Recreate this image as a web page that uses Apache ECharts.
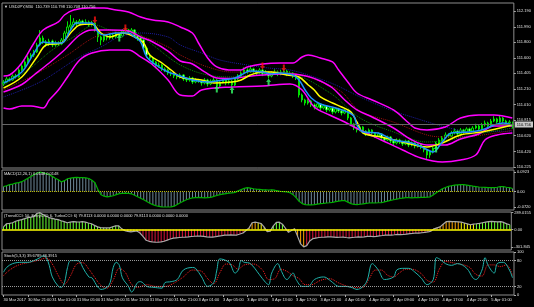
<!DOCTYPE html>
<html>
<head>
<meta charset="utf-8">
<script src="https://cdn.jsdelivr.net/npm/echarts@6/dist/echarts.min.js"></script>
<style>
  html, body { margin: 0; background: #000; }
  #chart { width: 534px; height: 307px; }
</style>
</head>
<body>
<div id="chart"></div>
<script>
// USDJPY M30, one entry per bar: [open, close, low, high]
const candles = [
  [111.270,111.296,111.245,111.320],[111.296,111.334,111.280,111.360],[111.334,111.321,111.300,111.352],[111.321,111.371,111.310,111.392],
  [111.371,111.359,111.338,111.398],[111.359,111.447,111.350,111.470],[111.447,111.497,111.430,111.525],[111.497,111.548,111.482,111.570],
  [111.548,111.598,111.530,111.630],[111.598,111.636,111.575,111.660],[111.636,111.674,111.610,111.700],[111.674,111.762,111.660,111.790],
  [111.762,111.850,111.745,111.950],[111.850,111.800,111.775,111.880],[111.800,111.775,111.740,111.825],[111.775,111.812,111.750,111.840],
  [111.812,111.762,111.735,111.830],[111.762,111.787,111.740,111.815],[111.787,111.775,111.750,111.810],[111.775,111.825,111.760,111.850],
  [111.825,111.913,111.810,111.940],[111.913,111.989,111.900,112.060],[111.989,112.014,111.960,112.140],[112.014,112.052,111.990,112.100],
  [112.052,112.027,112.000,112.075],[112.027,112.064,112.010,112.090],[112.064,112.039,112.015,112.080],[112.039,112.052,112.020,112.085],
  [112.052,112.014,111.990,112.070],[112.014,112.039,111.995,112.065],[112.039,111.951,111.930,112.055],[111.951,111.863,111.800,111.965],
  [111.863,111.825,111.760,111.880],[111.825,111.875,111.800,111.900],[111.875,111.850,111.820,111.890],[111.850,111.888,111.830,111.910],
  [111.888,111.863,111.835,111.905],[111.863,111.901,111.845,111.930],[111.901,111.875,111.850,111.915],[111.875,111.938,111.860,111.960],
  [111.938,111.951,111.915,111.985],[111.951,111.926,111.900,111.965],[111.926,111.951,111.905,111.975],[111.951,111.875,111.850,111.960],
  [111.875,111.850,111.815,111.890],[111.850,111.825,111.790,111.870],[111.825,111.724,111.700,111.840],[111.724,111.636,111.600,111.740],
  [111.636,111.598,111.570,111.660],[111.598,111.548,111.520,111.615],[111.548,111.497,111.470,111.560],[111.497,111.510,111.475,111.540],
  [111.510,111.460,111.435,111.525],[111.460,111.447,111.420,111.480],[111.447,111.409,111.385,111.465],[111.409,111.397,111.370,111.430],
  [111.397,111.371,111.345,111.415],[111.371,111.359,111.330,111.390],[111.359,111.384,111.340,111.405],[111.384,111.334,111.310,111.395],
  [111.334,111.321,111.295,111.350],[111.321,111.346,111.300,111.370],[111.346,111.296,111.270,111.360],[111.296,111.321,111.280,111.345],
  [111.321,111.308,111.285,111.335],[111.308,111.283,111.250,111.320],[111.283,111.321,111.265,111.345],[111.321,111.271,111.240,111.335],
  [111.271,111.308,111.255,111.330],[111.308,111.321,111.290,111.350],[111.321,111.245,111.215,111.335],[111.245,111.296,111.230,111.315],
  [111.296,111.321,111.280,111.345],[111.321,111.283,111.255,111.335],[111.283,111.308,111.265,111.330],[111.308,111.258,111.225,111.320],
  [111.258,111.334,111.245,111.350],[111.334,111.371,111.320,111.395],[111.371,111.409,111.355,111.440],[111.409,111.447,111.395,111.480],
  [111.447,111.422,111.400,111.470],[111.422,111.460,111.410,111.490],[111.460,111.434,111.410,111.475],[111.434,111.409,111.385,111.450],
  [111.409,111.447,111.395,111.470],[111.447,111.397,111.370,111.460],[111.397,111.422,111.380,111.445],[111.422,111.371,111.340,111.435],
  [111.371,111.409,111.355,111.430],[111.409,111.422,111.390,111.455],[111.422,111.397,111.370,111.440],[111.397,111.422,111.380,111.450],
  [111.422,111.434,111.400,111.465],[111.434,111.397,111.370,111.450],[111.397,111.409,111.380,111.430],[111.409,111.371,111.345,111.420],
  [111.371,111.346,111.320,111.385],[111.346,111.132,111.100,111.360],[111.132,111.069,111.040,111.150],[111.069,111.031,111.000,111.085],
  [111.031,111.056,111.010,111.080],[111.056,111.006,110.980,111.070],[111.006,110.981,110.950,111.025],[110.981,111.019,110.965,111.045],
  [111.019,110.968,110.940,111.030],[110.968,110.993,110.950,111.015],[110.993,110.943,110.915,111.005],[110.943,110.968,110.925,110.990],
  [110.968,110.918,110.890,110.980],[110.918,110.956,110.900,110.975],[110.956,110.930,110.905,110.970],[110.930,110.905,110.875,110.945],
  [110.905,110.943,110.890,110.965],[110.943,110.842,110.815,110.955],[110.842,110.767,110.740,110.855],[110.767,110.716,110.690,110.780],
  [110.716,110.691,110.660,110.730],[110.691,110.729,110.675,110.750],[110.729,110.678,110.650,110.740],[110.678,110.641,110.615,110.690],
  [110.641,110.691,110.625,110.710],[110.691,110.653,110.630,110.700],[110.653,110.615,110.590,110.665],[110.615,110.641,110.600,110.660],
  [110.641,110.590,110.565,110.650],[110.590,110.565,110.540,110.605],[110.565,110.603,110.550,110.620],[110.603,110.552,110.525,110.615],
  [110.552,110.527,110.500,110.565],[110.527,110.565,110.510,110.585],[110.565,110.540,110.515,110.580],[110.540,110.515,110.490,110.555],
  [110.515,110.552,110.500,110.570],[110.552,110.502,110.475,110.565],[110.502,110.527,110.485,110.545],[110.527,110.489,110.460,110.540],
  [110.489,110.515,110.470,110.535],[110.515,110.477,110.450,110.525],[110.477,110.439,110.410,110.490],[110.439,110.376,110.320,110.450],
  [110.376,110.414,110.340,110.435],[110.414,110.464,110.395,110.480],[110.464,110.527,110.450,110.545],[110.527,110.565,110.510,110.590],
  [110.565,110.590,110.545,110.615],[110.590,110.628,110.575,110.660],[110.628,110.615,110.590,110.650],[110.615,110.653,110.600,110.680],
  [110.653,110.678,110.635,110.710],[110.678,110.641,110.615,110.695],[110.641,110.691,110.625,110.715],[110.691,110.666,110.640,110.705],
  [110.666,110.704,110.650,110.725],[110.704,110.678,110.655,110.720],[110.678,110.716,110.665,110.740],[110.716,110.741,110.700,110.770],
  [110.741,110.704,110.680,110.755],[110.704,110.754,110.690,110.780],[110.754,110.779,110.735,110.810],[110.779,110.741,110.715,110.795],
  [110.741,110.804,110.730,110.830],[110.804,110.830,110.790,110.865],[110.830,110.792,110.770,110.845],[110.792,110.842,110.780,110.880],
  [110.842,110.804,110.780,110.855],[110.804,110.779,110.755,110.820],[110.779,110.792,110.760,110.815],[110.739,110.756,110.708,110.798]
];

// indicator lines: [bar index, price]
const upperBand = [[0,111.371],[2,111.384],[6,111.535],[10,111.787],[13,111.951],[18,112.052],[20,112.140],[23,112.203],[28,112.228],[33,112.228],[37,112.203],[41,112.178],[45,112.115],[49,112.077],[54,112.052],[58,111.989],[62,111.913],[64,111.787],[67,111.598],[70,111.485],[74,111.447],[78,111.447],[80,111.485],[85,111.523],[91,111.535],[95,111.535],[98,111.611],[100,111.636],[104,111.598],[108,111.548],[110,111.447],[113,111.296],[116,111.157],[121,111.069],[128,110.943],[133,110.779],[135,110.716],[139,110.691],[145,110.729],[150,110.842],[156,110.880],[161,110.880],[167,110.842]];
const middleBand = [[0,111.170],[6,111.264],[10,111.384],[15,111.535],[20,111.699],[25,111.888],[29,111.951],[35,111.951],[41,111.938],[45,111.863],[49,111.800],[54,111.686],[58,111.560],[62,111.523],[66,111.422],[70,111.346],[75,111.340],[80,111.365],[85,111.384],[91,111.397],[95,111.397],[100,111.365],[104,111.308],[108,111.220],[112,111.069],[116,110.943],[121,110.855],[128,110.716],[134,110.565],[139,110.502],[145,110.502],[150,110.578],[156,110.641],[161,110.741],[167,110.741]];
const lowerBand = [[0,110.968],[2,110.956],[6,110.993],[9,110.993],[13,110.968],[15,111.069],[18,111.195],[21,111.359],[25,111.573],[29,111.661],[35,111.699],[41,111.699],[45,111.611],[49,111.510],[54,111.321],[58,111.132],[62,111.119],[65,111.195],[75,111.233],[85,111.245],[94,111.271],[98,111.195],[102,110.981],[107,110.880],[112,110.792],[117,110.691],[124,110.565],[131,110.439],[137,110.338],[144,110.288],[150,110.313],[155,110.376],[158,110.565],[162,110.628],[167,110.653]];
const fastLine = [[0,111.283],[6,111.422],[10,111.661],[13,111.800],[16,111.787],[19,111.787],[22,111.951],[24,112.039],[29,112.039],[31,111.926],[33,111.888],[37,111.913],[41,111.913],[43,111.863],[45,111.800],[47,111.611],[51,111.485],[54,111.422],[57,111.384],[62,111.321],[67,111.296],[72,111.321],[76,111.346],[78,111.384],[81,111.434],[85,111.422],[88,111.397],[91,111.409],[95,111.384],[97,111.321],[99,111.195],[101,111.094],[104,111.019],[109,110.968],[113,110.918],[115,110.867],[116,110.754],[118,110.666],[123,110.653],[128,110.565],[134,110.527],[138,110.464],[141,110.414],[144,110.540],[147,110.653],[153,110.666],[157,110.691],[161,110.754],[164,110.779],[167,110.754]];
const slowLine = [[0,111.220],[6,111.359],[11,111.611],[14,111.762],[19,111.787],[22,111.913],[25,112.014],[29,112.027],[32,111.913],[35,111.863],[39,111.913],[43,111.863],[46,111.787],[48,111.636],[52,111.535],[55,111.447],[58,111.359],[65,111.321],[69,111.283],[75,111.296],[78,111.321],[81,111.384],[85,111.422],[88,111.422],[93,111.384],[97,111.359],[100,111.258],[102,111.195],[104,111.107],[108,111.031],[111,110.981],[114,110.918],[116,110.792],[118,110.653],[124,110.603],[131,110.540],[139,110.477],[144,110.527],[150,110.628],[157,110.666],[167,110.754]];
const greenDots = [[0,111.258],[8,111.447],[16,111.699],[23,111.863],[30,112.014],[35,111.951],[43,111.926],[49,111.762],[58,111.510],[67,111.384],[76,111.359],[85,111.409],[94,111.409],[100,111.321],[104,111.233],[109,111.107],[117,110.842],[128,110.666],[139,110.540],[146,110.565],[154,110.628],[167,110.716]];
const redDots = [[0,111.195],[10,111.384],[21,111.636],[30,111.863],[37,111.926],[46,111.863],[54,111.737],[58,111.636],[67,111.485],[75,111.422],[86,111.422],[94,111.409],[100,111.359],[105,111.283],[111,111.170],[117,110.930],[128,110.790],[139,110.628],[145,110.603],[154,110.615],[164,110.666],[167,110.691]];
const navyDots = [[0,111.107],[12,111.296],[25,111.611],[32,111.737],[38,111.863],[45,111.913],[54,111.863],[58,111.762],[65,111.661],[71,111.573],[80,111.510],[87,111.472],[94,111.447],[102,111.359],[109,111.258],[117,111.107],[127,110.943],[134,110.855],[145,110.729],[154,110.666],[167,110.678]];
const sellArrows = [[30,112.077],[40,111.976],[85,111.497],[92,111.472]];
const buyArrows = [[38,111.850],[70,111.208],[75,111.195],[87,111.296],[142,110.450]];

// MACD(…,1): main = signal
const macd = [0.024,0.028,0.033,0.036,0.040,0.043,0.047,0.055,0.063,0.071,
  0.080,0.088,0.092,0.089,0.085,0.080,0.072,0.063,0.056,0.046,
  0.052,0.061,0.064,0.066,0.067,0.066,0.066,0.065,0.062,0.054,
  0.042,0.009,-0.014,-0.021,-0.024,-0.022,-0.019,-0.014,-0.009,-0.008,
  -0.007,-0.008,-0.010,-0.017,-0.024,-0.031,-0.038,-0.046,-0.054,-0.061,
  -0.066,-0.069,-0.072,-0.072,-0.072,-0.071,-0.068,-0.060,-0.052,-0.045,
  -0.038,-0.033,-0.029,-0.028,-0.027,-0.028,-0.029,-0.028,-0.027,-0.022,
  -0.018,-0.014,-0.011,-0.009,-0.007,-0.006,-0.003,0.004,0.010,0.016,
  0.019,0.017,0.014,0.012,0.011,0.009,0.009,0.008,0.009,0.007,
  0.004,0.001,0.000,-0.001,-0.005,-0.014,-0.028,-0.045,-0.056,-0.061,
  -0.062,-0.062,-0.061,-0.058,-0.056,-0.055,-0.053,-0.052,-0.050,-0.047,
  -0.044,-0.042,-0.042,-0.049,-0.056,-0.060,-0.061,-0.059,-0.057,-0.055,
  -0.053,-0.052,-0.053,-0.052,-0.052,-0.048,-0.044,-0.041,-0.038,-0.035,
  -0.032,-0.030,-0.028,-0.028,-0.029,-0.028,-0.028,-0.027,-0.027,-0.026,
  -0.024,-0.015,-0.005,0.005,0.014,0.020,0.025,0.028,0.031,0.032,
  0.033,0.033,0.031,0.029,0.026,0.024,0.022,0.021,0.020,0.019,
  0.019,0.019,0.021,0.024,0.024,0.021,0.019,0.015];

// TrendCCI value and trend state (1 up, -1 down, 0 / 2 changing)
const cci = [44,97,105,115,140,155,168,185,204,212,
  221,274,289,257,230,204,190,178,168,150,
  133,115,125,133,130,128,133,125,110,97,
  70,44,30,27,25,27,45,62,62,9,
  -20,-35,-44,-35,-27,-62,-120,-186,-205,-215,
  -220,-221,-215,-204,-185,-165,-150,-145,-140,-135,
  -133,-128,-122,-118,-115,-115,-120,-128,-133,-133,
  -125,-115,-108,-100,-97,-95,-97,-97,-80,-62,
  -20,27,115,125,115,100,40,-40,-30,60,
  120,125,90,20,-50,-20,10,-120,-250,-302,
  -280,-200,-160,-150,-140,-135,-133,-130,-128,-133,
  -138,-135,-133,-140,-145,-140,-135,-130,-133,-128,
  -120,-118,-125,-120,-112,-105,-97,-100,-97,-92,
  -85,-90,-88,-80,-72,-68,-62,-65,-58,-52,
  -44,-30,10,27,44,90,133,140,135,133,
  130,125,110,95,80,90,97,105,115,125,
  133,140,135,130,133,120,95,80];
const cciTrend = [1,1,1,1,1,1,1,1,1,1,
  1,1,1,1,1,1,1,1,1,1,
  1,1,1,1,1,1,1,1,1,1,
  1,1,1,1,1,1,1,1,1,0,
  0,0,0,0,0,-1,-1,-1,-1,-1,
  -1,-1,-1,-1,-1,-1,-1,-1,-1,-1,
  -1,-1,-1,-1,-1,-1,-1,-1,-1,-1,
  -1,-1,-1,-1,-1,-1,-1,-1,-1,-1,
  0,0,0,0,2,2,2,2,0,1,
  1,1,1,0,0,0,0,0,0,0,
  -1,-1,-1,-1,-1,-1,-1,-1,-1,-1,
  -1,-1,-1,-1,-1,-1,-1,-1,-1,-1,
  -1,-1,-1,-1,-1,-1,-1,-1,-1,-1,
  -1,-1,-1,-1,-1,-1,-1,-1,-1,-1,
  -1,-1,0,0,0,0,0,0,0,0,
  0,2,2,2,2,2,1,1,1,1,
  1,1,1,1,1,1,1,1];

// Stochastic main / signal: [bar index, value]
const stochMain = [[0,53],[1,64],[3,73],[6,76],[8,76],[10,80],[12,87],[13,91],[14,87],[15,69],[16,42],[18,20],[19,18],[20,29],[21,64],[22,80],[24,80],[25,78],[26,64],[28,42],[29,40],[30,29],[31,18],[32,13],[34,18],[35,29],[36,64],[37,76],[38,69],[39,40],[41,20],[42,7],[44,29],[45,31],[47,20],[49,18],[52,16],[53,29],[55,31],[57,36],[59,58],[62,64],[63,62],[65,42],[67,20],[69,29],[70,58],[71,84],[74,76],[76,51],[77,58],[78,80],[79,76],[81,73],[84,47],[86,29],[87,24],[88,51],[90,73],[91,58],[93,36],[95,51],[96,36],[98,20],[100,20],[102,36],[105,42],[106,40],[108,29],[110,20],[112,20],[114,18],[116,13],[119,29],[121,73],[123,58],[125,36],[128,42],[129,58],[131,62],[133,62],[135,53],[137,40],[139,24],[141,36],[142,87],[143,84],[145,73],[147,69],[149,73],[152,62],[154,40],[155,36],[157,58],[158,87],[159,69],[161,51],[162,73],[164,76],[166,58],[167,40]];
const stochSignal = [[0,45],[2,58],[5,70],[8,75],[11,80],[14,86],[16,72],[18,45],[20,25],[22,45],[24,72],[26,75],[28,60],[30,40],[32,22],[34,16],[36,35],[38,62],[40,52],[42,25],[44,18],[47,24],[50,20],[53,20],[56,28],[59,42],[62,58],[65,55],[67,38],[69,26],[71,52],[73,72],[75,70],[77,60],[79,70],[82,72],[85,58],[87,36],[89,38],[91,60],[93,55],[95,45],[97,38],[99,24],[101,24],[104,34],[107,38],[110,28],[113,20],[116,17],[118,18],[120,38],[122,58],[124,58],[126,46],[128,42],[130,52],[132,60],[134,60],[137,50],[139,34],[141,30],[143,60],[145,78],[148,74],[151,70],[153,64],[155,48],[157,44],[159,70],[161,70],[163,66],[165,70],[167,46]];

// axis texts
const timeLabels = ['30 Mar 2017','30 Mar 21:00','31 Mar 01:00','31 Mar 05:00','31 Mar 09:00','31 Mar 13:00','31 Mar 17:00','31 Mar 21:00','3 Apr 01:00','3 Apr 05:00','3 Apr 09:00','3 Apr 13:00','3 Apr 17:00','3 Apr 21:00','4 Apr 01:00','4 Apr 05:00','4 Apr 09:00','4 Apr 13:00','4 Apr 17:00','4 Apr 21:00','5 Apr 01:00'];
const priceTicks = ['112.190','111.990','111.800','111.600','111.405','111.210','111.010','110.815','110.620','110.420','110.225'];
const macdTicks = ['0.0923','0.00','-0.0720'];
const cciTicks = ['289.0155','0.00','-301.845'];
const stochTicks = ['100','80','20','0'];

const FONT = 'Liberation Sans';
const TXT = '#e0e0e0';
const chart = echarts.init(document.getElementById('chart'));
const bars = candles.map((c, i) => i);
const lastClose = candles[candles.length - 1][1];

function paneText(s, top) {
  return { text: s, left: 4, top: top, padding: 0,
    textStyle: { fontSize: 4, color: TXT, fontWeight: 'normal', fontFamily: FONT } };
}

function xAx(gi) {
  const last = gi === 3;
  return {
    type: 'category', gridIndex: gi, data: bars, boundaryGap: true,
    axisLine: { show: false },
    axisTick: { show: last, length: 2, alignWithLabel: true, interval: (i) => i % 8 === 0, lineStyle: { color: '#aaa' } },
    axisLabel: { show: last, interval: (i) => i % 8 === 0, formatter: (v, i) => timeLabels[i / 8] || '',
      align: 'left', fontSize: 4, color: TXT, fontFamily: FONT, margin: 3 },
    splitLine: { show: false },
  };
}

function yAx(gi, min, max, ticks) {
  const vals = ticks.map(Number);
  const pick = (v) => {
    let k = 0;
    vals.forEach((t, j) => { if (Math.abs(t - v) < Math.abs(vals[k] - v)) k = j; });
    return ticks[k];
  };
  return {
    type: 'value', gridIndex: gi, position: 'right', min: min, max: max,
    splitLine: { show: false }, axisLine: { show: false },
    axisTick: { show: true, length: 2, customValues: vals, lineStyle: { color: '#aaa' } },
    axisLabel: { show: true, customValues: vals, formatter: pick, fontSize: 4, color: TXT, fontFamily: FONT, margin: 3 },
  };
}

function line(data, color, width, type, ax, z) {
  return { type: 'line', xAxisIndex: ax, yAxisIndex: ax, data: data, smooth: 0.35,
    showSymbol: false, symbol: 'none', silent: true, z: z || 3,
    lineStyle: { color: color, width: width, type: type } };
}

const gridBase = { left: 2, right: 20, show: true, borderColor: '#8c8c8c', borderWidth: 1, backgroundColor: '#000' };

const option = {
  backgroundColor: '#000',
  animation: false,
  title: [
    paneText('\u25BC USDJPY,M30  110.739 110.798 110.708 110.756', 5),
    paneText('MACD(12,26,1) 0.0148 0.0148', 172),
    paneText('(TrendCCI: 50, EntryCCI: 6, TurboCCI: 6) 79.8113 0.0000 0.0000 0.0000 79.8113 0.0000 0.0000 0.0000', 214),
    paneText('Stoch(5,3,3) 39.6789 46.3915', 254),
  ],
  grid: [
    Object.assign({ top: 3, height: 165 }, gridBase),
    Object.assign({ top: 170, height: 40 }, gridBase),
    Object.assign({ top: 212, height: 38 }, gridBase),
    Object.assign({ top: 252, height: 43 }, gridBase),
  ],
  xAxis: [xAx(0), xAx(1), xAx(2), xAx(3)],
  yAxis: [
    yAx(0, 110.212, 112.291, priceTicks),
    yAx(1, -0.086, 0.102, macdTicks),
    yAx(2, -355, 300, cciTicks),
    yAx(3, 0, 100, stochTicks),
  ],
  series: [
    {
      type: 'candlestick', xAxisIndex: 0, yAxisIndex: 0, data: candles, barWidth: 2, z: 2,
      itemStyle: { color: '#000', color0: '#e8ffe8', borderColor: '#00e000', borderColor0: '#00e000', borderWidth: 1 },
      markLine: {
        silent: true, symbol: ['none', 'none'],
        lineStyle: { color: '#666666', width: 1, type: 'solid' },
        label: { position: 'end', formatter: lastClose.toFixed(3), fontSize: 4, fontFamily: FONT,
          color: '#000', backgroundColor: '#c8c8c8', padding: [1, 2], distance: 1 },
        data: [{ yAxis: lastClose }],
      },
    },
    line(navyDots, '#1c1ca0', 1, 'dotted', 0),
    line(redDots, '#a01010', 1, 'dotted', 0),
    line(greenDots, '#0a8a0a', 1, 'dotted', 0),
    line(upperBand, '#ff00ff', 1.5, 'solid', 0),
    line(middleBand, '#ff00ff', 1.5, 'solid', 0),
    line(lowerBand, '#ff00ff', 1.5, 'solid', 0),
    line(slowLine, '#ffff00', 1.5, 'solid', 0, 4),
    line(fastLine, '#1e90ff', 1.5, 'solid', 0, 4),
    {
      type: 'scatter', xAxisIndex: 0, yAxisIndex: 0, data: sellArrows, z: 5, silent: true,
      symbol: 'path://M3,0L7,0L7,6L10,6L5,12L0,6L3,6Z', symbolSize: [5, 7],
      itemStyle: { color: '#ff1010' },
    },
    {
      type: 'scatter', xAxisIndex: 0, yAxisIndex: 0, data: buyArrows, z: 5, silent: true,
      symbol: 'path://M5,0L10,6L7,6L7,12L3,12L3,6L0,6Z', symbolSize: [5, 7],
      itemStyle: { color: '#33ff66' },
    },
    {
      type: 'bar', xAxisIndex: 1, yAxisIndex: 1, data: macd, barWidth: 1, silent: true,
      itemStyle: { color: '#6f8898' },
      markLine: {
        silent: true, symbol: ['none', 'none'], label: { show: false },
        lineStyle: { color: '#b8b800', width: 1, type: 'dotted' },
        data: [{ yAxis: 0 }],
      },
    },
    Object.assign(line(macd, '#00b000', 1.2, 'solid', 1, 4), { smooth: false }),
    {
      type: 'bar', xAxisIndex: 2, yAxisIndex: 2, data: cci, barWidth: 1, silent: true,
      itemStyle: {
        color: (p) => ({ '1': '#66ff33', '-1': '#dc143c', '0': '#ffa500', '2': '#ffff00' })[cciTrend[p.dataIndex]],
      },
      markLine: {
        silent: true, symbol: ['none', 'none'], label: { show: false },
        lineStyle: { color: '#ffff00', width: 1.5, type: 'solid' },
        data: [{ yAxis: 0 }],
      },
    },
    Object.assign(line(cci, '#a8a8a8', 1.2, 'solid', 2, 4), { smooth: false }),
    Object.assign(line(stochSignal, '#ff2020', 1, 'dotted', 3), {
      markLine: {
        silent: true, symbol: ['none', 'none'], label: { show: false },
        lineStyle: { color: '#9a9a9a', width: 1, type: 'dotted' },
        data: [{ yAxis: 80 }, { yAxis: 20 }],
      },
    }),
    line(stochMain, '#20b2aa', 1, 'solid', 3, 4),
  ],
};

chart.setOption(option);
</script>
</body>
</html>
